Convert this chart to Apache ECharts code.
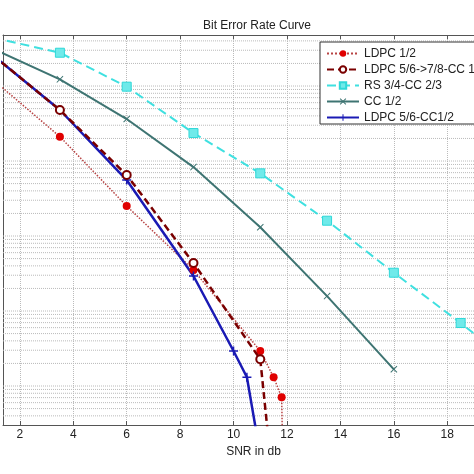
<!DOCTYPE html>
<html>
<head>
<meta charset="utf-8">
<script src="https://cdn.jsdelivr.net/npm/echarts@6/dist/echarts.min.js"></script>
<style>
  html, body { margin: 0; padding: 0; background: #fff; }
  #chart { width: 474px; height: 474px; }
</style>
</head>
<body>
<div id="chart"></div>
<script>
// SNR (dB) and bit error rate
const ldpcHalfSnr = [1, 3.5, 6, 8.5, 11, 11.5, 11.8, 11.9]
const ldpcHalfBer = [0.0121, 0.00211, 2.51e-4, 3.52e-5, 2.93e-6, 1.31e-6, 7.07e-7, 1e-8]

const ldpcHybridSnr = [1, 3.5, 6, 8.5, 11, 11.5]
const ldpcHybridBer = [0.0256, 0.00479, 6.5e-4, 4.36e-5, 2.27e-6, 4.1e-8]

const rsSnr = [1, 3.5, 6, 8.5, 11, 13.5, 16, 18.5, 21]
const rsBer = [0.044, 0.0278, 0.0098, 0.00236, 6.85e-4, 1.6e-4, 3.24e-5, 6.92e-6, 1.36e-6]

const ccSnr = [1, 3.5, 6, 8.5, 11, 13.5, 16]
const ccBer = [0.0313, 0.01227, 0.00363, 8.3e-4, 1.31e-4, 1.58e-5, 1.67e-6]

const ldpcCcSnr = [1, 3.5, 6, 8.5, 10, 10.5, 11]
const ldpcCcBer = [0.0256, 0.00479, 5.58e-4, 2.93e-5, 2.93e-6, 1.31e-6, 1.2e-7]

const seriesNames = ['LDPC 1/2', 'LDPC 5/6->7/8-CC 1/2', 'RS 3/4-CC 2/3', 'CC 1/2', 'LDPC 5/6-CC1/2']
const xTicks = [2, 4, 6, 8, 10, 12, 14, 16, 18]

const xMin = 1.37, xMax = 19
const yMin = 3.02e-7, yMax = 0.0479

function pairs(xs, ys) {
  return xs.map((x, i) => [x, ys[i]])
}

// log grid lines 1..9 x 10^n inside the y range
const gridValues = []
for (let e = -7; e <= -1; e++) {
  for (let k = 1; k <= 9; k++) {
    const v = k * Math.pow(10, e)
    if (v >= yMin && v <= yMax) gridValues.push(v)
  }
}

const gridSeries = gridValues.map(v => ({
  type: 'line',
  silent: true,
  z: 1,
  symbol: 'none',
  data: [[xMin, v], [xMax, v]],
  lineStyle: { type: 'dotted', color: '#bbb', width: 1 }
}))

const crossPath = 'path://M0,1L1,0L5,4L9,0L10,1L6,5L10,9L9,10L5,6L1,10L0,9L4,5Z'
const plusPath = 'path://M4.2,0H5.8V4.2H10V5.8H5.8V10H4.2V5.8H0V4.2H4.2Z'

const chart = echarts.init(document.getElementById('chart'))
chart.setOption({
  animation: false,
  backgroundColor: '#fff',
  textStyle: { fontFamily: 'Liberation Sans, Arial, sans-serif' },
  title: {
    text: 'Bit Error Rate Curve',
    left: 252,
    textAlign: 'center',
    top: 15,
    textStyle: { fontSize: 12, fontWeight: 'normal', color: '#222' }
  },
  legend: {
    orient: 'vertical',
    left: 320,
    top: 42,
    data: seriesNames,
    itemWidth: 32,
    itemHeight: 8,
    itemGap: 3,
    padding: [5, 8, 0, 6],
    borderColor: '#333',
    borderWidth: 1,
    backgroundColor: '#fff',
    textStyle: { fontSize: 12, color: '#222', height: 13, lineHeight: 13 }
  },
  grid: { left: 3, right: 0, top: 35, bottom: 49 },
  xAxis: [
    {
      type: 'value',
      min: xMin,
      max: xMax,
      name: 'SNR in db',
      nameLocation: 'middle',
      nameGap: 21,
      nameTextStyle: { fontSize: 12, color: '#222', padding: [0, 0, 0, 30] },
      axisLine: { lineStyle: { color: '#555' } },
      axisTick: { inside: true, length: 4, customValues: xTicks, lineStyle: { color: '#555' } },
      axisLabel: { customValues: xTicks, fontSize: 12, color: '#222', margin: 4 },
      splitLine: { show: true, lineStyle: { type: 'dotted', color: '#bbb' } }
    },
    {
      type: 'value',
      position: 'top',
      min: xMin,
      max: xMax,
      axisLine: { lineStyle: { color: '#555' } },
      axisTick: { inside: true, length: 4, customValues: xTicks, lineStyle: { color: '#555' } },
      axisLabel: { show: false },
      splitLine: { show: false }
    }
  ],
  yAxis: {
    type: 'log',
    logBase: 10,
    min: yMin,
    max: yMax,
    axisLine: { show: true, lineStyle: { color: '#555' } },
    axisTick: { show: false },
    axisLabel: { show: false },
    splitLine: { show: false }
  },
  series: gridSeries.concat([
    {
      name: seriesNames[0],
      type: 'line',
      z: 3,
      data: pairs(ldpcHalfSnr, ldpcHalfBer),
      symbol: 'circle',
      symbolSize: 8,
      lineStyle: { color: '#b84444', width: 1.5, type: 'dotted' },
      itemStyle: { color: '#e00000' }
    },
    {
      name: seriesNames[1],
      type: 'line',
      z: 4,
      data: pairs(ldpcHybridSnr, ldpcHybridBer),
      symbol: 'emptyCircle',
      symbolSize: 8,
      lineStyle: { color: '#7a0000', width: 2.5, type: [7, 4] },
      itemStyle: { color: '#7a0000', borderWidth: 2 }
    },
    {
      name: seriesNames[2],
      type: 'line',
      z: 3,
      data: pairs(rsSnr, rsBer),
      symbol: 'rect',
      symbolSize: 9,
      lineStyle: { color: '#3fe0e0', width: 2, type: [9, 5] },
      itemStyle: { color: '#6feaea', borderColor: '#2fd8d8', borderWidth: 1 }
    },
    {
      name: seriesNames[3],
      type: 'line',
      z: 3,
      data: pairs(ccSnr, ccBer),
      symbol: crossPath,
      symbolSize: 7,
      lineStyle: { color: '#3e7472', width: 2 },
      itemStyle: { color: '#3e7472' }
    },
    {
      name: seriesNames[4],
      type: 'line',
      z: 3,
      data: pairs(ldpcCcSnr, ldpcCcBer),
      symbol: plusPath,
      symbolSize: 9,
      lineStyle: { color: '#1a1ab4', width: 2.5 },
      itemStyle: { color: '#1a1ab4' }
    }
  ])
})
</script>
</body>
</html>
